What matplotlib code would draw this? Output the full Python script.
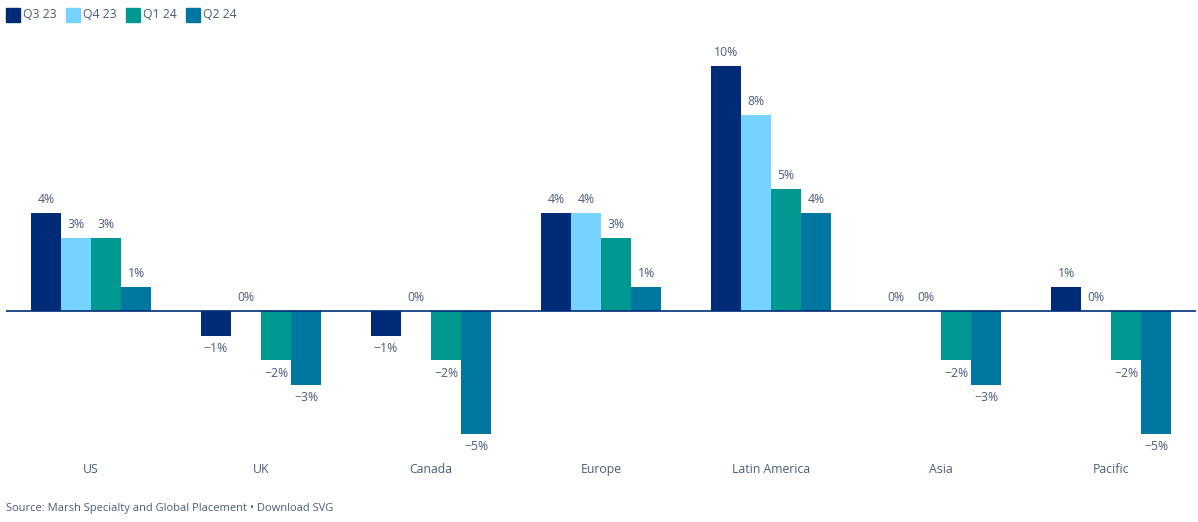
import matplotlib.pyplot as plt
from matplotlib.patches import Rectangle
import numpy as np

plt.rcParams['font.family'] = ['Open Sans', 'DejaVu Sans']

regions = ['US', 'UK', 'Canada', 'Europe', 'Latin America', 'Asia', 'Pacific']
quarters = ['Q3 23', 'Q4 23', 'Q1 24', 'Q2 24']
q3_23 = [4, -1, -1, 4, 10, 0, 1]
q4_23 = [3, 0, 0, 4, 8, 0, 0]
q1_24 = [3, -2, -2, 3, 5, -2, -2]
q2_24 = [1, -3, -5, 1, 4, -3, -5]
series = [q3_23, q4_23, q1_24, q2_24]
colors = ['#002c77', '#76d3ff', '#009991', '#0077a0']

text_col = '#4a5b7c'
fs = 8.8

W, H = 1198, 522
fig = plt.figure(figsize=(W / 100, H / 100), dpi=100)
# axes placed in pixel coords: x 6..1196, y 40..455 (top to bottom)
ax = fig.add_axes([6 / W, 1 - 455 / H, 1190 / W, 415 / H])

x = np.arange(len(regions))
bw = 30 / 170
for i, (vals, c) in enumerate(zip(series, colors)):
    pos = x - 2 * bw + bw / 2 + i * bw
    ax.bar(pos, vals, width=bw, color=c, linewidth=0)
    for p, v in zip(pos, vals):
        if v < 0:
            ax.annotate('\u2212%d%%' % abs(v), (p, v), xytext=(0, -5), textcoords='offset points',
                        ha='center', va='top', fontsize=fs, color=text_col)
        else:
            ax.annotate('%d%%' % v, (p, v), xytext=(0, 5), textcoords='offset points',
                        ha='center', va='bottom', fontsize=fs, color=text_col)

ax.axhline(0, color='#002c77', linewidth=1.2)
ax.set_xlim(-0.5, len(regions) - 0.5)
ax.set_ylim(-144 / 24.5, 271 / 24.5)
ax.set_yticks([])
ax.set_xticks(x)
ax.set_xticklabels(regions, fontsize=fs, color=text_col)
ax.tick_params(axis='x', length=0, pad=5.5)
for s in ax.spines.values():
    s.set_visible(False)

# legend
lx = [6, 66, 126, 186]
for xx, q, c in zip(lx, quarters, colors):
    fig.patches.append(Rectangle((xx / W, 1 - 22 / H), 14 / W, 14 / H,
                                 transform=fig.transFigure, color=c))
    fig.text((xx + 17) / W, 1 - 15 / H, q, fontsize=fs, color=text_col, va='center')

fig.text(6 / W, 1 - 509 / H, 'Source: Marsh Specialty and Global Placement \u2022 Download SVG',
         fontsize=8, color=text_col, va='center')

fig.savefig('out.png', dpi=100)
